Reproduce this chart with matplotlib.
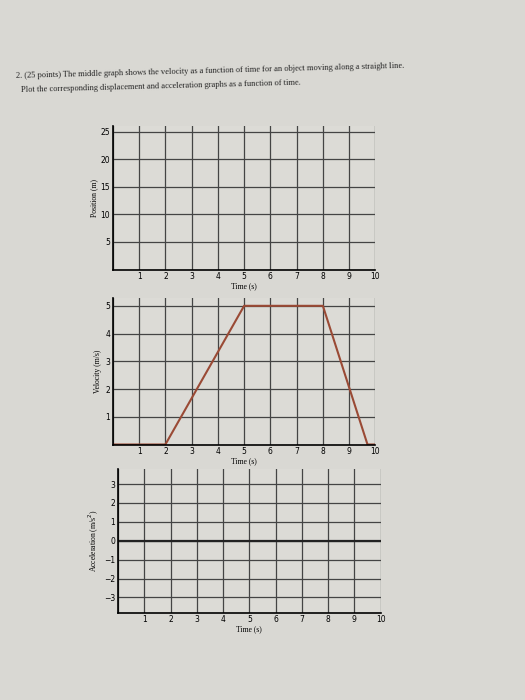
import matplotlib.pyplot as plt
import numpy as np

t_ticks = [1,2,3,4,5,6,7,8,9,10]
pos_ticks = [5,10,15,20,25]
vel_ticks = [1,2,3,4,5]
acc_ticks = [-3,-2,-1,0,1,2,3]
vel_t = [0,2,5,8,9.7,10]
vel_v = [0,0,5,5,0,0]

fig = plt.figure(figsize=(5.25,7), dpi=100)
fig.patch.set_facecolor('#d9d8d3')
fig.text(0.03,0.888,"2. (25 points) The middle graph shows the velocity as a function of time for an object moving along a straight line.",
         fontsize=6.0, family='Liberation Serif', rotation=1.5, color='#222')
fig.text(0.04,0.868,"Plot the corresponding displacement and acceleration graphs as a function of time.",
         fontsize=6.0, family='Liberation Serif', rotation=1.5, color='#222')

def setup(ax, ylo, yhi, yt, ylabel):
    ax.set_facecolor('#dcdbd6')
    ax.set_xlim(0,10); ax.set_ylim(ylo,yhi)
    for x in range(0,11):
        ax.axvline(x, color='#444', lw=0.9)
    for y in yt:
        ax.axhline(y, color='#444', lw=0.9)
    ax.set_xticks(t_ticks); ax.set_yticks(yt)
    ax.tick_params(labelsize=5.5, length=0, pad=2)
    ax.set_xlabel("Time (s)", fontsize=5.5, family='Liberation Serif', labelpad=1)
    ax.set_ylabel(ylabel, fontsize=5.5, family='Liberation Serif', labelpad=2)
    for s in ax.spines.values(): s.set_visible(False)
    ax.spines['left'].set_visible(True); ax.spines['left'].set_linewidth(1.2)
    ax.spines['bottom'].set_visible(True); ax.spines['bottom'].set_linewidth(1.2)

ax1 = fig.add_axes([0.215,0.615,0.5,0.205])
setup(ax1,0,26,pos_ticks,"Position (m)")
ax2 = fig.add_axes([0.215,0.365,0.5,0.21])
setup(ax2,0,5.3,vel_ticks,"Velocity (m/s)")
ax2.plot(vel_t, vel_v, color='#9a4a35', lw=1.5)
ax3 = fig.add_axes([0.225,0.125,0.5,0.205])
setup(ax3,-3.8,3.8,acc_ticks,"Acceleration (m/s$^2$)")
ax3.axhline(0, color='#222', lw=1.6)
fig.savefig("out.png", dpi=100, facecolor=fig.get_facecolor())
